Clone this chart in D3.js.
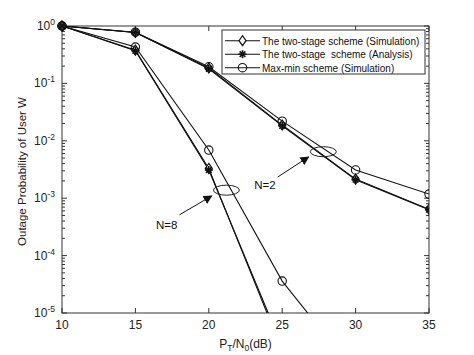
<!DOCTYPE html>
<html>
<head>
<meta charset="utf-8">
<script src="https://cdn.jsdelivr.net/npm/d3@7"></script>
<style>
  body { margin: 0; background: #fff; }
  svg { font-family: "Liberation Sans", Arial, sans-serif; }
</style>
</head>
<body>
<svg id="chart" width="474" height="355"></svg>
<script>
// values
var snrDb = [10, 15, 20, 25, 30, 35];
var n2Sim = [1, 0.77, 0.185, 0.0188, 0.00215, 0.00064];
var n2Ana = [1, 0.77, 0.18, 0.0182, 0.0021, 0.00063];
var n2MaxMin = [1, 0.78, 0.195, 0.022, 0.0031, 0.00118];
var n8Sim = [1, 0.38, 0.0033, 2.2e-6];
var n8Ana = [1, 0.37, 0.0031, 2.6e-6];
var n8MaxMin = [1, 0.43, 0.0069, 3.6e-5, 9e-7];
var xTicks = [10, 15, 20, 25, 30, 35];
var yTicks = [0, -1, -2, -3, -4, -5];
var legendLabels = ["The two-stage scheme (Simulation)", "The two-stage  scheme (Analysis)", "Max-min scheme (Simulation)"];

var margin = {top: 26, right: 45, bottom: 42, left: 62};
var svg = d3.select("#chart");
var width = +svg.attr("width") - margin.left - margin.right,
    height = +svg.attr("height") - margin.top - margin.bottom;
var g = svg.append("g").attr("transform", "translate(" + margin.left + "," + margin.top + ")");

var x = d3.scaleLinear().domain([10, 35]).range([0, width]);
var y = d3.scaleLog().domain([1e-5, 1]).range([height, 0]);

g.append("defs").append("clipPath").attr("id", "clip")
  .append("rect").attr("width", width).attr("height", height);

var axisColor = "#333";

// box
g.append("rect").attr("width", width).attr("height", height)
  .attr("fill", "none").attr("stroke", axisColor).attr("stroke-width", 1);

// x ticks (bottom and top, inward)
xTicks.forEach(function (t) {
  g.append("line").attr("x1", x(t)).attr("x2", x(t)).attr("y1", height).attr("y2", height - 5).attr("stroke", axisColor);
  g.append("line").attr("x1", x(t)).attr("x2", x(t)).attr("y1", 0).attr("y2", 5).attr("stroke", axisColor);
  g.append("text").attr("x", x(t)).attr("y", height + 16).attr("text-anchor", "middle")
    .attr("font-size", 12).attr("fill", "#222").text(t);
});

// y ticks, major and minor
yTicks.forEach(function (e) {
  var v = Math.pow(10, e);
  g.append("line").attr("x1", 0).attr("x2", 5).attr("y1", y(v)).attr("y2", y(v)).attr("stroke", axisColor);
  g.append("line").attr("x1", width).attr("x2", width - 5).attr("y1", y(v)).attr("y2", y(v)).attr("stroke", axisColor);
  var lab = g.append("text").attr("x", -7).attr("y", y(v) + 4).attr("text-anchor", "end")
    .attr("font-size", 12).attr("fill", "#222");
  lab.append("tspan").text("10");
  lab.append("tspan").attr("dy", -5).attr("font-size", 8.5).text(e);
  if (e > -5) {
    for (var k = 2; k <= 9; k++) {
      var m = k * Math.pow(10, e - 1);
      g.append("line").attr("x1", 0).attr("x2", 3).attr("y1", y(m)).attr("y2", y(m)).attr("stroke", axisColor);
      g.append("line").attr("x1", width).attr("x2", width - 3).attr("y1", y(m)).attr("y2", y(m)).attr("stroke", axisColor);
    }
  }
});

// axis titles
var xl = g.append("text").attr("x", width / 2).attr("y", height + 35).attr("text-anchor", "middle")
  .attr("font-size", 12).attr("fill", "#222");
xl.append("tspan").text("P");
xl.append("tspan").attr("dy", 3).attr("font-size", 8.5).text("T");
xl.append("tspan").attr("dy", -3).text("/N");
xl.append("tspan").attr("dy", 3).attr("font-size", 8.5).text("0");
xl.append("tspan").attr("dy", -3).text("(dB)");

g.append("text").attr("transform", "translate(-36," + (height / 2 + 2) + ") rotate(-90)")
  .attr("text-anchor", "middle").attr("font-size", 11.5).attr("fill", "#222")
  .text("Outage Probability of User W");

// series
var series = [
  {vals: n2Sim, mark: "diamond"},
  {vals: n2Ana, mark: "star"},
  {vals: n2MaxMin, mark: "circle"},
  {vals: n8Sim, mark: "diamond"},
  {vals: n8Ana, mark: "star"},
  {vals: n8MaxMin, mark: "circle"}
];

var line = d3.line().x(function (d) { return x(d[0]); }).y(function (d) { return y(d[1]); });
var plot = g.append("g").attr("clip-path", "url(#clip)");

function drawMarker(sel, type, cx, cy) {
  if (type === "diamond") {
    sel.append("path").attr("d", "M" + cx + "," + (cy - 5) + "L" + (cx + 3.5) + "," + cy + "L" + cx + "," + (cy + 5) + "L" + (cx - 3.5) + "," + cy + "Z")
      .attr("fill", "#fff").attr("stroke", "#111").attr("stroke-width", 1.2);
  } else if (type === "circle") {
    sel.append("circle").attr("cx", cx).attr("cy", cy).attr("r", 4.2)
      .attr("fill", "none").attr("stroke", "#111").attr("stroke-width", 1.1);
  } else {
    var r = 4;
    for (var a = 0; a < 4; a++) {
      var ang = a * Math.PI / 4;
      sel.append("line").attr("x1", cx - r * Math.cos(ang)).attr("y1", cy - r * Math.sin(ang))
        .attr("x2", cx + r * Math.cos(ang)).attr("y2", cy + r * Math.sin(ang))
        .attr("stroke", "#111").attr("stroke-width", 1.6);
    }
  }
}

series.forEach(function (s) {
  var pts = s.vals.map(function (v, i) { return [snrDb[i], v]; });
  plot.append("path").datum(pts).attr("d", line).attr("fill", "none").attr("stroke", "#111").attr("stroke-width", 1.1);
});
series.forEach(function (s) {
  s.vals.forEach(function (v, i) {
    if (v >= 1e-5) drawMarker(plot, s.mark, x(snrDb[i]), y(v));
  });
});
// re-draw the points at 10 dB unclipped so the full marker shows on the frame
series.forEach(function (s) { drawMarker(g, s.mark, x(snrDb[0]), y(s.vals[0])); });

// annotations
g.append("ellipse").attr("cx", x(21.2)).attr("cy", y(Math.pow(10, -2.86))).attr("rx", 13).attr("ry", 5)
  .attr("fill", "none").attr("stroke", "#222").attr("stroke-width", 1);
g.append("ellipse").attr("cx", x(27.8)).attr("cy", y(Math.pow(10, -2.19))).attr("rx", 13).attr("ry", 5)
  .attr("fill", "none").attr("stroke", "#222").attr("stroke-width", 1);

g.append("defs").append("marker").attr("id", "arrow").attr("viewBox", "0 0 10 10")
  .attr("refX", 9).attr("refY", 5).attr("markerWidth", 9).attr("markerHeight", 9)
  .attr("markerUnits", "userSpaceOnUse").attr("orient", "auto")
  .append("path").attr("d", "M0,0L10,5L0,10Z").attr("fill", "#111");

g.append("line").attr("x1", x(18.0)).attr("y1", y(Math.pow(10, -3.29))).attr("x2", x(20.2)).attr("y2", y(Math.pow(10, -2.96)))
  .attr("stroke", "#111").attr("stroke-width", 1).attr("marker-end", "url(#arrow)");
g.append("line").attr("x1", x(24.7)).attr("y1", y(Math.pow(10, -2.63))).attr("x2", x(26.8)).attr("y2", y(Math.pow(10, -2.28)))
  .attr("stroke", "#111").attr("stroke-width", 1).attr("marker-end", "url(#arrow)");

g.append("text").attr("x", x(16.4)).attr("y", y(Math.pow(10, -3.46)) + 4).attr("font-size", 11.5).attr("fill", "#111").text("N=8");
g.append("text").attr("x", x(23.1)).attr("y", y(Math.pow(10, -2.77)) + 4).attr("font-size", 11.5).attr("fill", "#111").text("N=2");

// legend
var lg = svg.append("g").attr("transform", "translate(222,30)");
lg.append("rect").attr("width", 203).attr("height", 44).attr("fill", "#fff").attr("stroke", "#333");
legendLabels.forEach(function (lbl, i) {
  var ly = 10.7 + i * 13.5;
  lg.append("line").attr("x1", 3).attr("x2", 38).attr("y1", ly).attr("y2", ly).attr("stroke", "#111").attr("stroke-width", 1.1);
  drawMarker(lg, series[i].mark, 20.5, ly);
  lg.append("text").attr("x", 40).attr("y", ly + 4).attr("font-size", 10).attr("fill", "#111")
    .style("white-space", "pre").text(lbl);
});
</script>
</body>
</html>
